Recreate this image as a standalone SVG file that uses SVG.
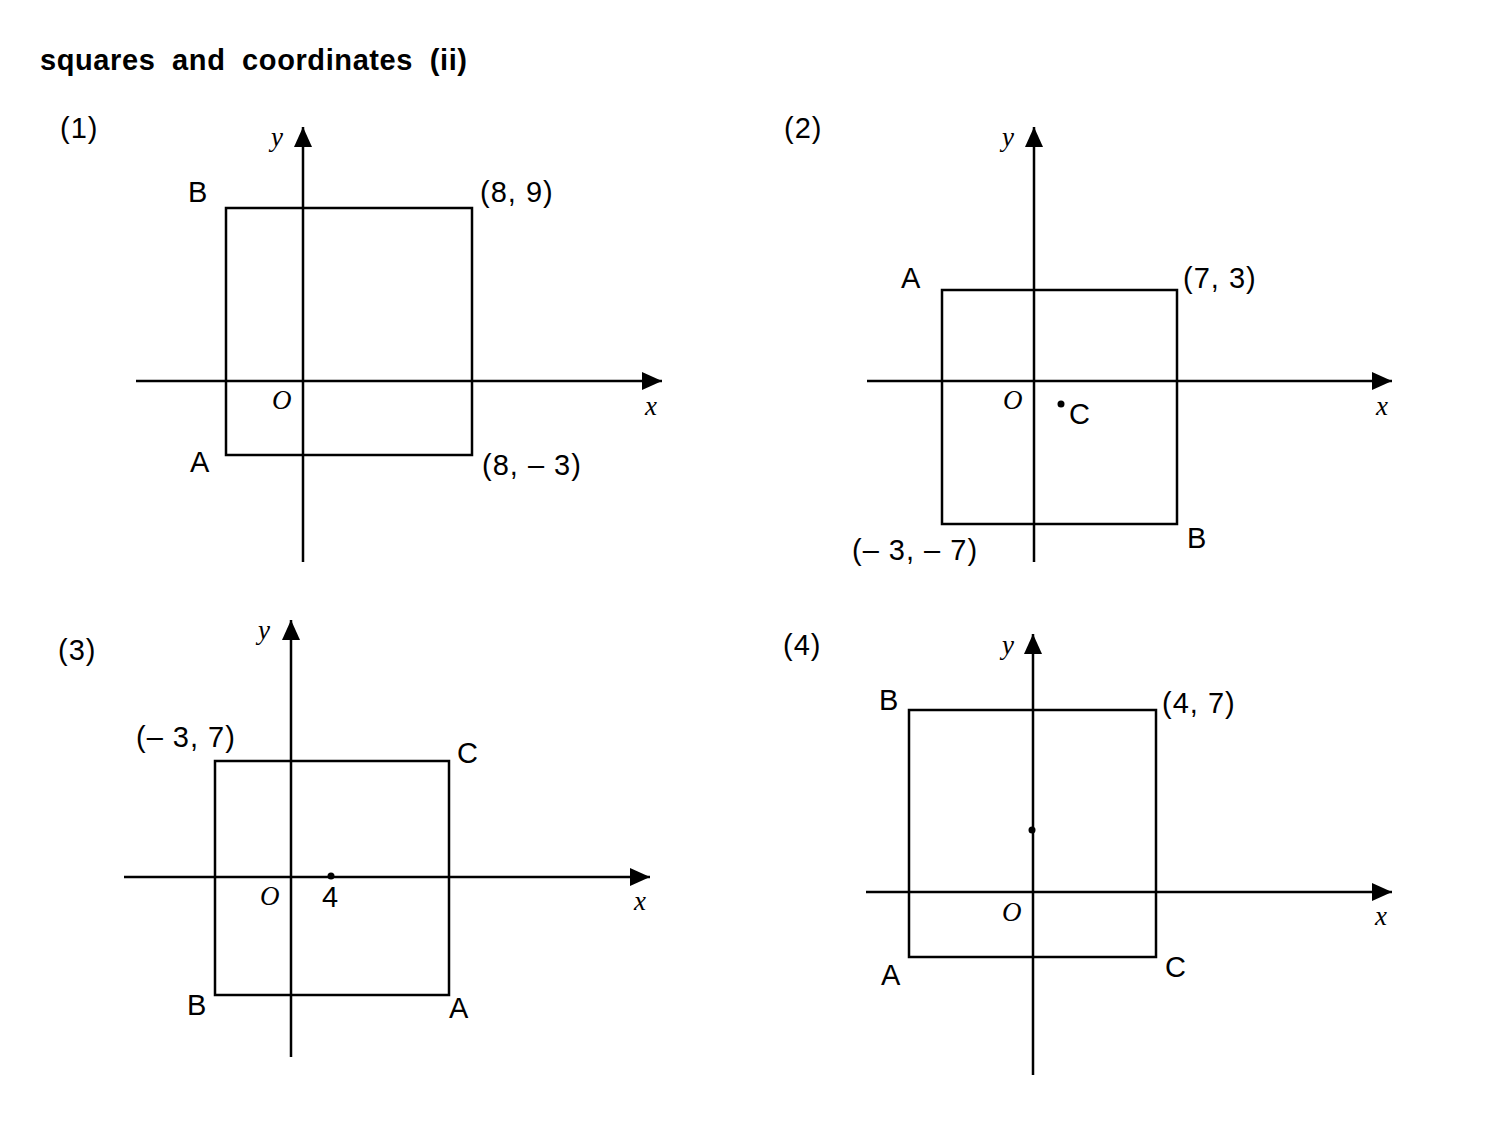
<svg xmlns="http://www.w3.org/2000/svg" width="1500" height="1125" viewBox="0 0 1500 1125">
<style>
.l{stroke:#000;stroke-width:2.5;fill:none}
.t{font-family:"Liberation Sans",Arial,sans-serif;font-size:29px;letter-spacing:1px;fill:#000}
.i{font-family:"Liberation Serif","Times New Roman",serif;font-style:italic;font-size:27px;fill:#000}
.b{font-family:"Liberation Sans",Arial,sans-serif;font-size:29px;font-weight:bold;letter-spacing:0.6px;word-spacing:8px;fill:#000}
</style>
<defs>
<marker id="a" viewBox="0 0 20 18" refX="20" refY="9" markerWidth="22" markerHeight="18" orient="auto" markerUnits="userSpaceOnUse"><path d="M0,0 L20,9 L0,18 Z" fill="#000"/></marker>
</defs>
<text class="b" x="40" y="70">squares and coordinates (ii)</text>
<g id="connectors">
<line class="l" x1="303" y1="562" x2="303" y2="127" marker-end="url(#a)"/>
<line class="l" x1="136" y1="381" x2="662" y2="381" marker-end="url(#a)"/>
<line class="l" x1="1034" y1="562" x2="1034" y2="127" marker-end="url(#a)"/>
<line class="l" x1="867" y1="381" x2="1392" y2="381" marker-end="url(#a)"/>
<line class="l" x1="291" y1="1057" x2="291" y2="620" marker-end="url(#a)"/>
<line class="l" x1="124" y1="877" x2="650" y2="877" marker-end="url(#a)"/>
<line class="l" x1="1033" y1="1075" x2="1033" y2="634" marker-end="url(#a)"/>
<line class="l" x1="866" y1="892" x2="1392" y2="892" marker-end="url(#a)"/>
</g>
<g id="panel1">
<text class="t" x="60" y="138">(1)</text>
<rect class="l" x="226" y="208" width="246" height="247"/>
<text class="t" x="188" y="202">B</text>
<text class="t" x="480" y="202">(8, 9)</text>
<text class="i" x="272" y="409">O</text>
<text class="i" x="645" y="415">x</text>
<text class="i" x="271" y="146">y</text>
<text class="t" x="190" y="472">A</text>
<text class="t" x="482" y="475">(8, – 3)</text>
</g>
<g id="panel2">
<text class="t" x="784" y="138">(2)</text>
<rect class="l" x="942" y="290" width="235" height="234"/>
<text class="t" x="901" y="288">A</text>
<text class="t" x="1183" y="288">(7, 3)</text>
<text class="i" x="1003" y="409">O</text>
<circle cx="1061" cy="404" r="3.5"/>
<text class="t" x="1069" y="424">C</text>
<text class="t" x="1187" y="548">B</text>
<text class="t" x="852" y="560">(– 3, – 7)</text>
<text class="i" x="1376" y="415">x</text>
<text class="i" x="1002" y="146">y</text>
</g>
<g id="panel3">
<text class="t" x="58" y="660">(3)</text>
<rect class="l" x="215" y="761" width="234" height="234"/>
<text class="t" x="136" y="747">(– 3, 7)</text>
<text class="t" x="457" y="763">C</text>
<text class="i" x="260" y="905">O</text>
<circle cx="331" cy="876" r="3.5"/>
<text class="t" x="322" y="907">4</text>
<text class="t" x="187" y="1015">B</text>
<text class="t" x="449" y="1018">A</text>
<text class="i" x="634" y="910">x</text>
<text class="i" x="258" y="639">y</text>
</g>
<g id="panel4">
<text class="t" x="783" y="655">(4)</text>
<rect class="l" x="909" y="710" width="247" height="247"/>
<text class="t" x="879" y="710">B</text>
<text class="t" x="1162" y="713">(4, 7)</text>
<circle cx="1032" cy="830" r="3.5"/>
<text class="i" x="1002" y="921">O</text>
<text class="t" x="881" y="985">A</text>
<text class="t" x="1165" y="977">C</text>
<text class="i" x="1375" y="925">x</text>
<text class="i" x="1002" y="654">y</text>
</g>
</svg>
